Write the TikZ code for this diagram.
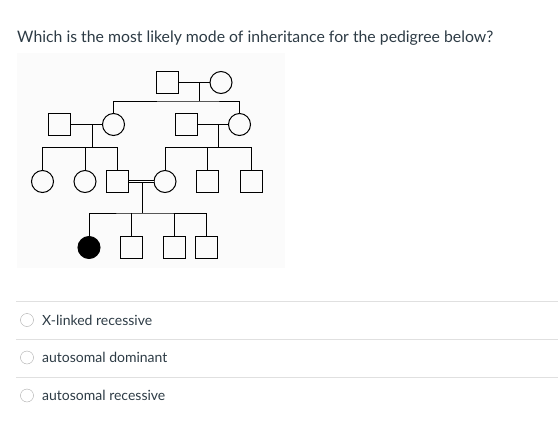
\documentclass[tikz,border=0pt]{standalone}
\usepackage{fontspec}
\setmainfont{Lato}
\usetikzlibrary{positioning}
\definecolor{qtext}{HTML}{2D3B45}
\definecolor{hrule}{HTML}{E0E0E0}
\definecolor{radio}{HTML}{A8A8A8}
\definecolor{imgbg}{HTML}{FBFBFB}
\begin{document}
\begin{tikzpicture}[x=1pt,y=-1pt,
    male/.style={rectangle,draw,minimum size=22pt,inner sep=0pt,line width=1pt},
    female/.style={circle,draw,minimum size=22pt,inner sep=0pt,line width=1pt},
    affected/.style={female,fill=black},
    link/.style={line width=1pt},
    option/.style={anchor=west,text=qtext,font=\fontsize{14}{16}\selectfont,inner sep=0pt}]
  \useasboundingbox (0,0) rectangle (558,429);
  \fill[imgbg] (17,53) rectangle (285,268);
  \node[anchor=base west,text=qtext,font=\fontsize{15.8}{18}\selectfont,inner sep=0pt] (q) at (17,42) {Which is the most likely mode of inheritance for the pedigree below?};
  % generation I
  \node[male] (a) at (167,82.5) {};
  \node[female] (b) at (221,82.5) {};
  % generation II
  \node[male] (c) at (59.5,124.5) {};
  \node[female] (d) at (113.5,124.5) {};
  \node[male] (e) at (186.5,124.5) {};
  \node[female] (f) at (239.5,124.5) {};
  % generation III
  \node[female] (g) at (42.5,181.5) {};
  \node[female] (h) at (85,181.5) {};
  \node[male] (i) at (117.5,181.5) {};
  \node[female] (j) at (165,181.5) {};
  \node[male] (k) at (207.5,181.5) {};
  \node[male] (l) at (251,181.5) {};
  % generation IV
  \node[affected] (m) at (89,247.5) {};
  \node[male] (n) at (131.5,247.5) {};
  \node[male] (o) at (174,247.5) {};
  \node[male] (p) at (206.5,247.5) {};
  \coordinate (ab) at (199.5,82.5);
  \coordinate (abs) at (199.5,101);
  \coordinate (cd) at (92,124.5);
  \coordinate (cds) at (92,147.5);
  \coordinate (ef) at (218,124.5);
  \coordinate (efs) at (218,147.5);
  \coordinate (ij) at (142,183);
  \coordinate (ijs) at (142,213);
  \draw[link] (a) -- (b);
  \draw[link] (ab) -- (abs);
  \draw[link] (d.north) |- (abs) -| (f.north);
  \draw[link] (c) -- (d);
  \draw[link] (cd) -- (cds);
  \draw[link] (g.north) |- (cds) -| (i.north);
  \draw[link] (h.north) -- (h.north |- cds);
  \draw[link] (e) -- (f);
  \draw[link] (ef) -- (efs);
  \draw[link] (j.north) |- (efs) -| (l.north);
  \draw[link] (k.north) -- (k.north |- efs);
  \draw[line width=0.9pt,double distance=1.6pt] (i) -- (j);
  \draw[link] (ij) -- (ijs);
  \draw[link] (m.north) |- (ijs) -| (p.north);
  \draw[link] (n.north) -- (n.north |- ijs);
  \draw[link] (o.north) -- (o.north |- ijs);
  % answers
  \draw[hrule] (16,301) -- (558,301);
  \draw[hrule] (16,339) -- (558,339);
  \draw[hrule] (16,377) -- (558,377);
  \node[circle,draw=radio,minimum size=13pt,inner sep=0pt] (r1) at (27,320) {};
  \node[circle,draw=radio,minimum size=13pt,inner sep=0pt] (r2) at (27,357.5) {};
  \node[circle,draw=radio,minimum size=13pt,inner sep=0pt] (r3) at (27,395.5) {};
  \node[option] (t1) at (42,320) {X-linked recessive};
  \node[option] (t2) at (42,357.5) {autosomal dominant};
  \node[option] (t3) at (42,395.5) {autosomal recessive};
\end{tikzpicture}
\end{document}
